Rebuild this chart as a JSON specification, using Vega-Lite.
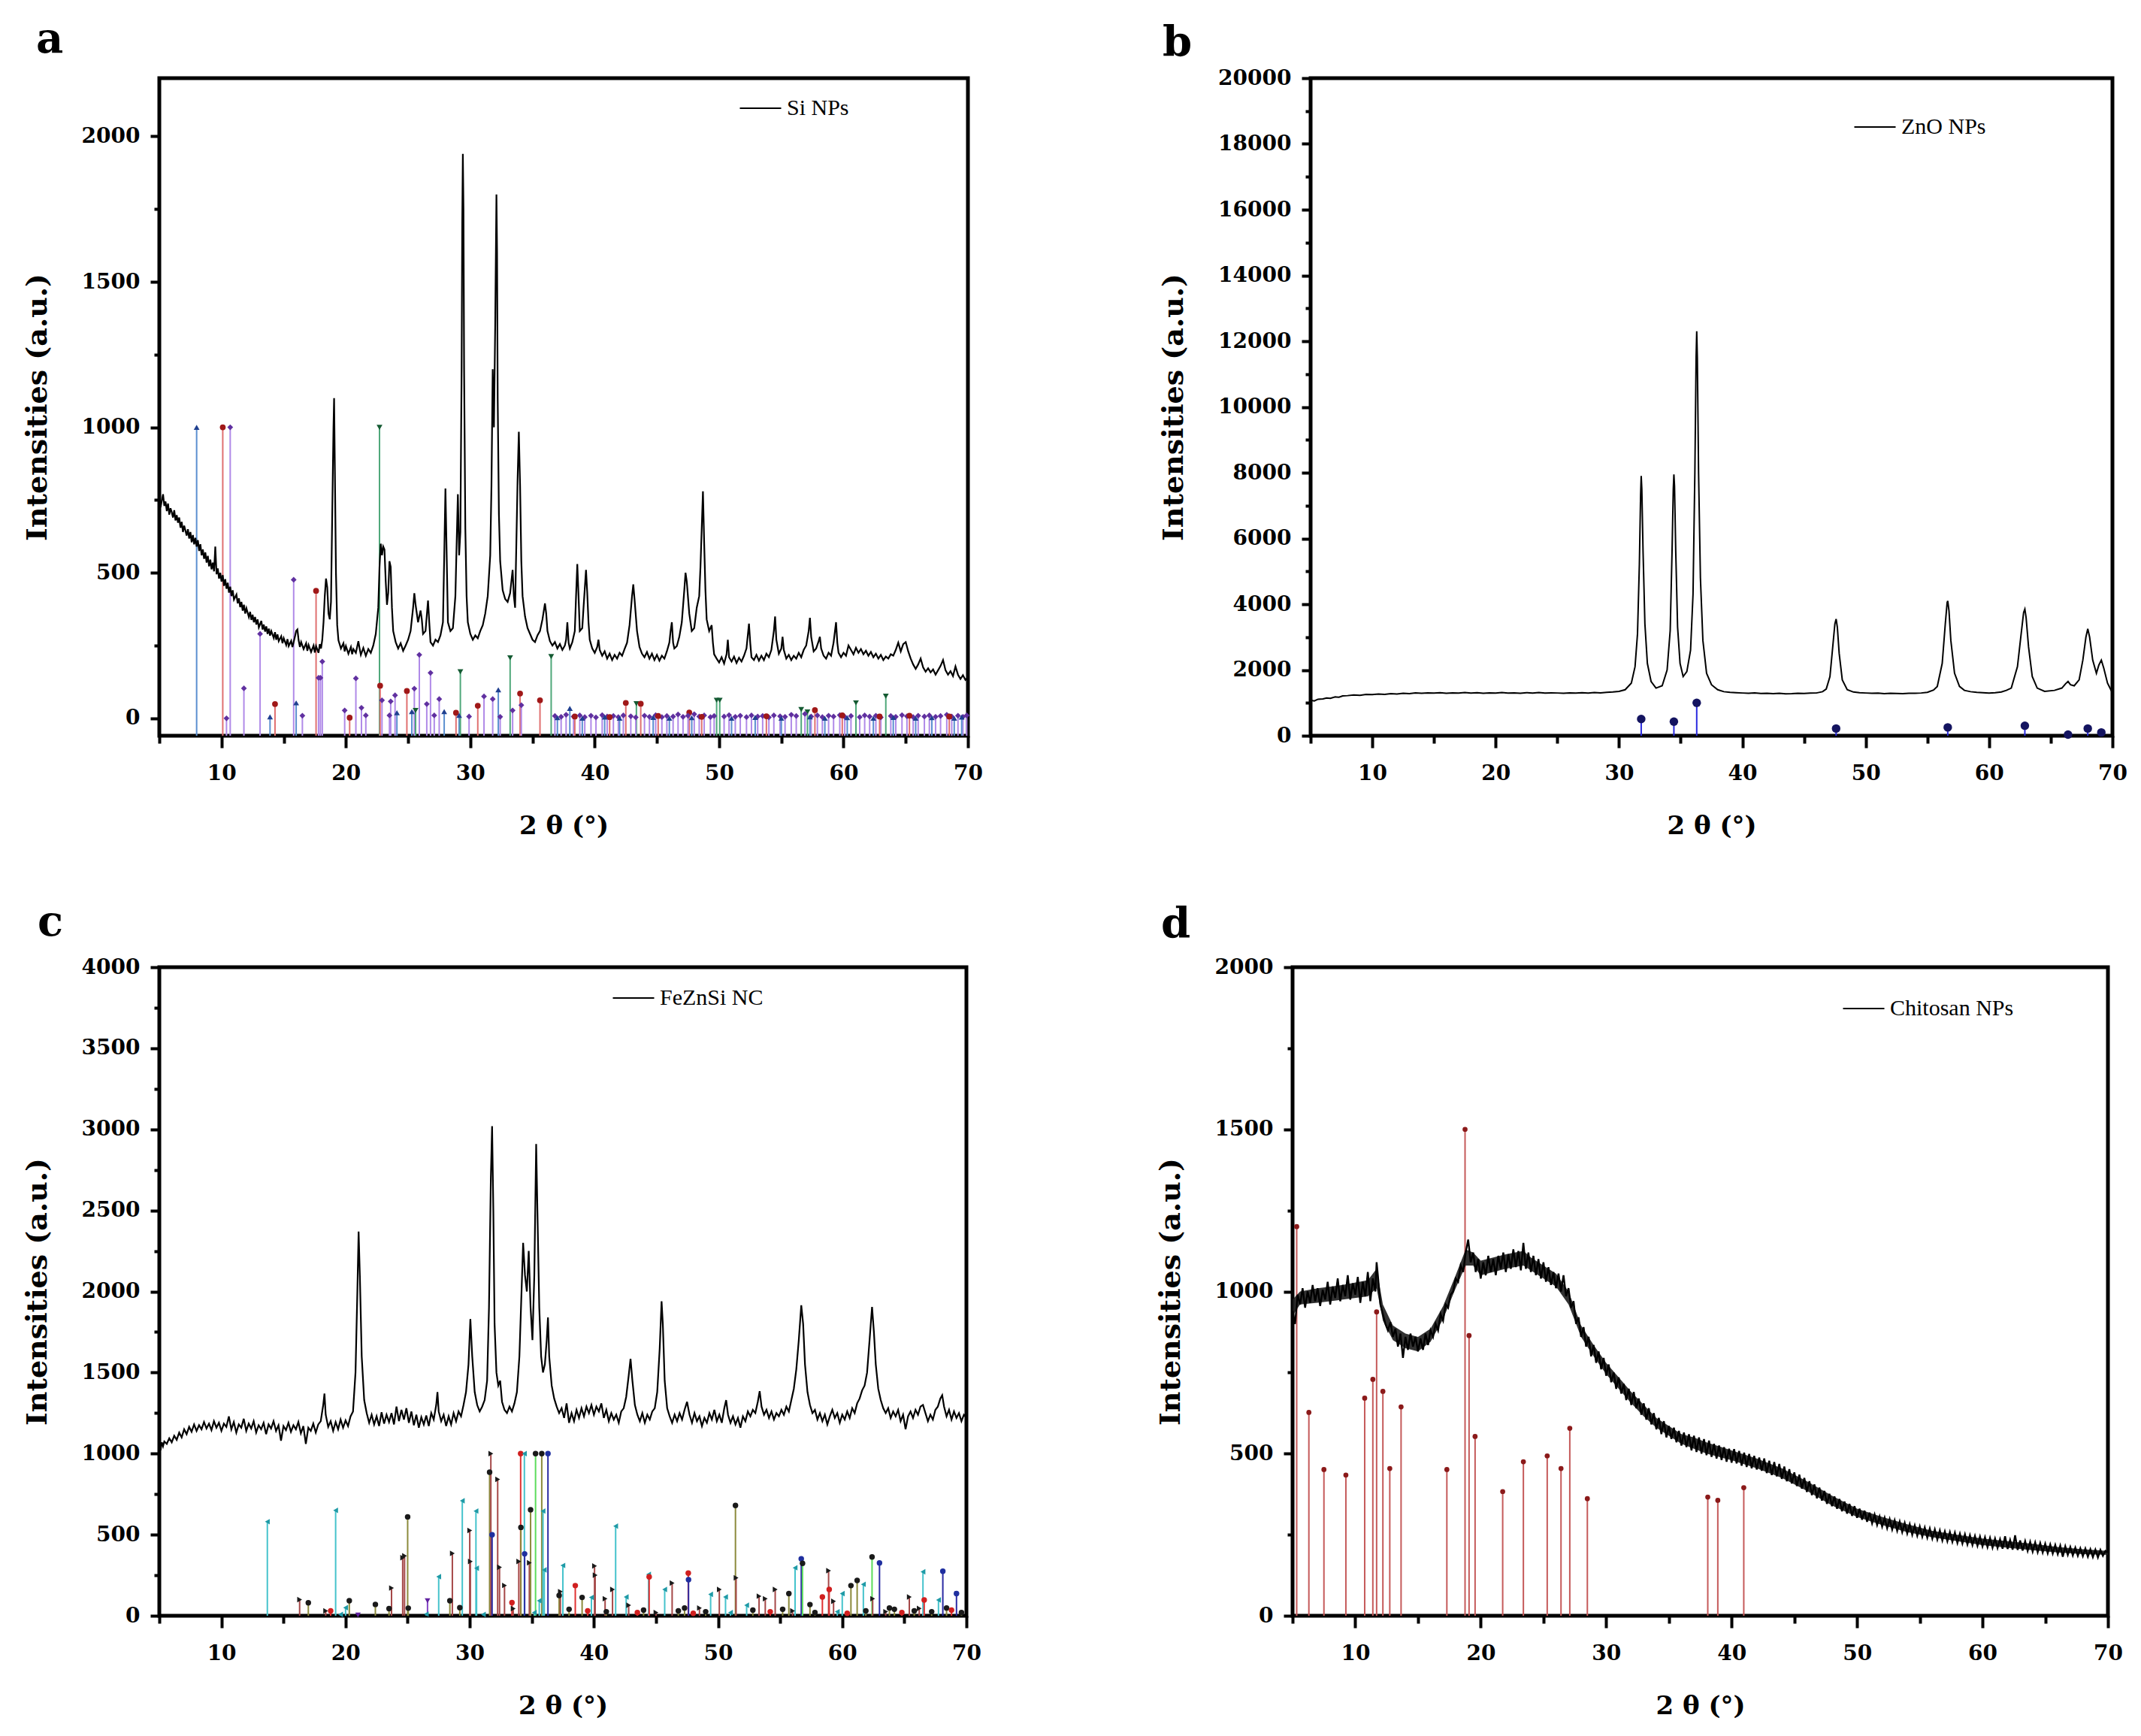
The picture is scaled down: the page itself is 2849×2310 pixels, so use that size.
{
  "$schema": "https://vega.github.io/schema/vega-lite/v6.json",
  "background": "white",
  "padding": {"left": 28, "top": 22, "right": 5, "bottom": 5},
  "config": {
    "font": "DejaVu Serif",
    "view": {"stroke": "black", "strokeWidth": 5},
    "axis": {"domain": false, "grid": false, "tickColor": "black", "tickWidth": 4, "labelFont": "DejaVu Serif", "labelFontWeight": "bold", "labelFontSize": 28, "labelColor": "black", "titleFont": "DejaVu Serif", "titleFontWeight": "bold", "titleFontSize": 34, "titleColor": "black", "labelFlush": false, "labelOverlap": false, "labelBound": false},
    "axisX": {"labelPadding": 20, "titlePadding": 39},
    "axisY": {"labelPadding": 14, "titlePadding": 39, "titleFontSize": 38},
    "legend": {"orient": "none", "symbolType": "stroke", "symbolSize": 3025, "symbolStrokeWidth": 2.2, "labelFont": "Liberation Serif", "labelFontSize": 30, "labelColor": "black", "labelOffset": 6, "labelLimit": 500, "padding": 0},
    "title": {"font": "DejaVu Serif", "fontSize": 56, "fontWeight": "bold", "anchor": "start", "frame": "group", "color": "black"}
  },
  "datasets": {
    "siNP": [
      {"t":5.0,"v":760},{"t":5.1,"v":725},{"t":5.2,"v":748},{"t":5.3,"v":770},{"t":5.4,"v":730},{"t":5.5,"v":745},{"t":5.6,"v":712},{"t":5.7,"v":738},{"t":5.8,"v":700},{"t":5.9,"v":722},
      {"t":6.0,"v":708},{"t":6.1,"v":690},{"t":6.2,"v":715},{"t":6.3,"v":680},{"t":6.4,"v":698},{"t":6.5,"v":672},{"t":6.6,"v":690},{"t":6.7,"v":655},{"t":6.8,"v":675},{"t":6.9,"v":640},
      {"t":7.0,"v":662},{"t":7.2,"v":628},{"t":7.3,"v":650},{"t":7.4,"v":618},{"t":7.5,"v":640},{"t":7.6,"v":605},{"t":7.7,"v":630},{"t":7.8,"v":598},{"t":7.9,"v":620},
      {"t":8.0,"v":590},{"t":8.1,"v":612},{"t":8.2,"v":575},{"t":8.3,"v":598},{"t":8.4,"v":560},{"t":8.5,"v":580},{"t":8.6,"v":548},{"t":8.7,"v":570},{"t":8.8,"v":535},{"t":8.9,"v":558},
      {"t":9.0,"v":522},{"t":9.1,"v":545},{"t":9.2,"v":512},{"t":9.3,"v":535},{"t":9.4,"v":505},{"t":9.5,"v":590},{"t":9.6,"v":495},{"t":9.7,"v":515},{"t":9.8,"v":480},{"t":9.9,"v":500},
      {"t":10.0,"v":470},{"t":10.1,"v":492},{"t":10.2,"v":455},{"t":10.3,"v":478},{"t":10.4,"v":445},{"t":10.5,"v":466},{"t":10.6,"v":432},{"t":10.7,"v":452},{"t":10.8,"v":420},{"t":10.9,"v":440},
      {"t":11.0,"v":408},{"t":11.2,"v":425},{"t":11.3,"v":395},{"t":11.4,"v":412},{"t":11.5,"v":382},{"t":11.6,"v":400},{"t":11.7,"v":370},{"t":11.8,"v":390},{"t":11.9,"v":360},
      {"t":12.0,"v":378},{"t":12.2,"v":348},{"t":12.3,"v":366},{"t":12.4,"v":338},{"t":12.5,"v":356},{"t":12.6,"v":330},{"t":12.7,"v":348},{"t":12.8,"v":322},{"t":12.9,"v":340},
      {"t":13.0,"v":312},{"t":13.2,"v":335},{"t":13.3,"v":305},{"t":13.4,"v":322},{"t":13.5,"v":298},{"t":13.6,"v":316},{"t":13.7,"v":290},{"t":13.8,"v":308},{"t":13.9,"v":284},
      {"t":14.0,"v":300},{"t":14.2,"v":276},{"t":14.3,"v":296},{"t":14.4,"v":270},{"t":14.5,"v":288},{"t":14.6,"v":265},{"t":14.8,"v":282},{"t":14.9,"v":258},
      {"t":15.0,"v":275},{"t":15.2,"v":252},{"t":15.3,"v":272},{"t":15.4,"v":248},{"t":15.6,"v":266},{"t":15.7,"v":245},{"t":15.8,"v":262},{"t":15.9,"v":280},
      {"t":16.0,"v":300},{"t":16.1,"v":305},{"t":16.2,"v":268},{"t":16.3,"v":245},{"t":16.4,"v":262},{"t":16.6,"v":238},{"t":16.8,"v":258},{"t":16.9,"v":232},
      {"t":17.0,"v":252},{"t":17.2,"v":228},{"t":17.4,"v":250},{"t":17.5,"v":226},{"t":17.6,"v":248},{"t":17.8,"v":225},{"t":17.9,"v":255},
      {"t":18.0,"v":240},{"t":18.1,"v":270},{"t":18.2,"v":330},{"t":18.3,"v":420},{"t":18.4,"v":480},{"t":18.5,"v":450},{"t":18.6,"v":360},{"t":18.7,"v":340},{"t":18.8,"v":400},{"t":18.9,"v":700},
      {"t":19.0,"v":1000},{"t":19.05,"v":1100},{"t":19.1,"v":900},{"t":19.2,"v":500},{"t":19.3,"v":320},{"t":19.4,"v":268},{"t":19.6,"v":240},{"t":19.8,"v":258},{"t":19.9,"v":230},
      {"t":20.0,"v":248},{"t":20.2,"v":222},{"t":20.4,"v":245},{"t":20.5,"v":220},{"t":20.6,"v":238},{"t":20.8,"v":225},{"t":21.0,"v":265},{"t":21.1,"v":240},{"t":21.2,"v":218},{"t":21.4,"v":242},{"t":21.6,"v":215},{"t":21.8,"v":238},
      {"t":22.0,"v":225},{"t":22.2,"v":250},{"t":22.4,"v":290},{"t":22.6,"v":380},{"t":22.7,"v":520},{"t":22.8,"v":600},{"t":22.9,"v":560},{"t":23.0,"v":590},{"t":23.1,"v":580},{"t":23.2,"v":470},{"t":23.3,"v":390},{"t":23.4,"v":430},{"t":23.5,"v":540},{"t":23.6,"v":520},{"t":23.7,"v":380},{"t":23.8,"v":300},
      {"t":24.0,"v":262},{"t":24.2,"v":240},{"t":24.4,"v":258},{"t":24.6,"v":232},{"t":24.8,"v":250},{"t":25.0,"v":270},{"t":25.2,"v":300},{"t":25.4,"v":380},{"t":25.5,"v":430},{"t":25.6,"v":390},{"t":25.8,"v":330},
      {"t":26.0,"v":370},{"t":26.1,"v":340},{"t":26.2,"v":290},{"t":26.4,"v":300},{"t":26.6,"v":405},{"t":26.7,"v":330},{"t":26.8,"v":262},{"t":27.0,"v":250},{"t":27.2,"v":270},{"t":27.4,"v":262},{"t":27.6,"v":285},{"t":27.8,"v":330},{"t":27.9,"v":550},
      {"t":28.0,"v":790},{"t":28.1,"v":560},{"t":28.2,"v":330},{"t":28.4,"v":300},{"t":28.6,"v":310},{"t":28.8,"v":420},{"t":28.9,"v":600},{"t":29.0,"v":770},{"t":29.1,"v":560},{"t":29.2,"v":640},{"t":29.3,"v":1200},{"t":29.35,"v":1700},{"t":29.4,"v":1940},{"t":29.45,"v":1750},{"t":29.5,"v":1200},{"t":29.6,"v":650},{"t":29.7,"v":420},{"t":29.8,"v":330},
      {"t":30.0,"v":290},{"t":30.2,"v":270},{"t":30.4,"v":285},{"t":30.6,"v":275},{"t":30.8,"v":300},{"t":31.0,"v":320},{"t":31.2,"v":360},{"t":31.4,"v":420},{"t":31.6,"v":560},{"t":31.7,"v":800},{"t":31.8,"v":1200},{"t":31.9,"v":1000},
      {"t":32.0,"v":1350},{"t":32.1,"v":1800},{"t":32.15,"v":1600},{"t":32.2,"v":1100},{"t":32.3,"v":700},{"t":32.4,"v":540},{"t":32.6,"v":440},{"t":32.8,"v":410},{"t":33.0,"v":400},{"t":33.2,"v":430},{"t":33.4,"v":510},{"t":33.5,"v":420},{"t":33.6,"v":380},{"t":33.7,"v":600},{"t":33.8,"v":820},{"t":33.9,"v":985},
      {"t":34.0,"v":800},{"t":34.1,"v":540},{"t":34.2,"v":420},{"t":34.4,"v":350},{"t":34.6,"v":310},{"t":34.8,"v":290},{"t":35.0,"v":270},{"t":35.2,"v":262},{"t":35.4,"v":285},{"t":35.6,"v":300},{"t":35.8,"v":340},
      {"t":36.0,"v":395},{"t":36.1,"v":360},{"t":36.2,"v":300},{"t":36.4,"v":265},{"t":36.6,"v":250},{"t":36.8,"v":262},{"t":37.0,"v":240},{"t":37.2,"v":255},{"t":37.4,"v":235},{"t":37.6,"v":250},{"t":37.7,"v":270},{"t":37.8,"v":330},{"t":37.9,"v":260},
      {"t":38.0,"v":240},{"t":38.2,"v":262},{"t":38.4,"v":300},{"t":38.5,"v":420},{"t":38.6,"v":530},{"t":38.7,"v":420},{"t":38.8,"v":300},{"t":39.0,"v":310},{"t":39.1,"v":380},{"t":39.3,"v":510},{"t":39.4,"v":430},{"t":39.5,"v":330},{"t":39.6,"v":270},{"t":39.8,"v":240},
      {"t":40.0,"v":225},{"t":40.2,"v":245},{"t":40.3,"v":270},{"t":40.4,"v":235},{"t":40.6,"v":215},{"t":40.8,"v":230},{"t":41.0,"v":205},{"t":41.2,"v":222},{"t":41.4,"v":200},{"t":41.6,"v":218},{"t":41.8,"v":205},
      {"t":42.0,"v":225},{"t":42.2,"v":215},{"t":42.4,"v":238},{"t":42.6,"v":260},{"t":42.8,"v":320},{"t":43.0,"v":420},{"t":43.1,"v":460},{"t":43.2,"v":410},{"t":43.4,"v":300},{"t":43.6,"v":245},{"t":43.8,"v":222},
      {"t":44.0,"v":210},{"t":44.2,"v":228},{"t":44.4,"v":205},{"t":44.6,"v":222},{"t":44.8,"v":200},{"t":45.0,"v":218},{"t":45.2,"v":198},{"t":45.4,"v":215},{"t":45.6,"v":205},{"t":45.8,"v":230},
      {"t":46.0,"v":260},{"t":46.1,"v":300},{"t":46.2,"v":330},{"t":46.3,"v":260},{"t":46.4,"v":240},{"t":46.6,"v":248},{"t":46.8,"v":280},{"t":47.0,"v":330},{"t":47.2,"v":440},{"t":47.3,"v":500},{"t":47.4,"v":470},{"t":47.6,"v":360},{"t":47.8,"v":300},
      {"t":48.0,"v":310},{"t":48.2,"v":380},{"t":48.4,"v":420},{"t":48.5,"v":520},{"t":48.6,"v":650},{"t":48.7,"v":780},{"t":48.8,"v":600},{"t":48.9,"v":440},{"t":49.0,"v":340},{"t":49.2,"v":300},{"t":49.4,"v":320},{"t":49.5,"v":260},{"t":49.6,"v":220},{"t":49.8,"v":205},
      {"t":50.0,"v":192},{"t":50.2,"v":210},{"t":50.4,"v":188},{"t":50.6,"v":220},{"t":50.7,"v":270},{"t":50.8,"v":210},{"t":51.0,"v":195},{"t":51.2,"v":212},{"t":51.4,"v":190},{"t":51.6,"v":208},{"t":51.8,"v":195},
      {"t":52.0,"v":215},{"t":52.2,"v":240},{"t":52.4,"v":325},{"t":52.5,"v":260},{"t":52.6,"v":210},{"t":52.8,"v":200},{"t":53.0,"v":218},{"t":53.2,"v":198},{"t":53.4,"v":215},{"t":53.6,"v":200},{"t":53.8,"v":222},
      {"t":54.0,"v":210},{"t":54.2,"v":235},{"t":54.4,"v":300},{"t":54.5,"v":350},{"t":54.6,"v":270},{"t":54.8,"v":222},{"t":55.0,"v":240},{"t":55.1,"v":280},{"t":55.2,"v":235},{"t":55.4,"v":205},{"t":55.6,"v":218},{"t":55.8,"v":200},
      {"t":56.0,"v":215},{"t":56.2,"v":205},{"t":56.4,"v":225},{"t":56.6,"v":210},{"t":56.8,"v":235},{"t":57.0,"v":250},{"t":57.2,"v":300},{"t":57.3,"v":345},{"t":57.4,"v":280},{"t":57.6,"v":230},{"t":57.8,"v":240},
      {"t":58.0,"v":265},{"t":58.1,"v":280},{"t":58.2,"v":240},{"t":58.4,"v":215},{"t":58.6,"v":205},{"t":58.8,"v":225},{"t":59.0,"v":215},{"t":59.2,"v":260},{"t":59.4,"v":330},{"t":59.5,"v":260},{"t":59.6,"v":225},{"t":59.8,"v":210},
      {"t":60.0,"v":225},{"t":60.2,"v":215},{"t":60.4,"v":250},{"t":60.6,"v":235},{"t":60.8,"v":220},{"t":61.0,"v":242},{"t":61.2,"v":225},{"t":61.4,"v":238},{"t":61.6,"v":220},{"t":61.8,"v":232},
      {"t":62.0,"v":215},{"t":62.2,"v":228},{"t":62.4,"v":210},{"t":62.6,"v":222},{"t":62.8,"v":205},{"t":63.0,"v":218},{"t":63.2,"v":200},{"t":63.4,"v":212},{"t":63.6,"v":205},{"t":63.8,"v":220},
      {"t":64.0,"v":215},{"t":64.2,"v":235},{"t":64.4,"v":260},{"t":64.5,"v":245},{"t":64.6,"v":230},{"t":64.8,"v":255},{"t":65.0,"v":262},{"t":65.2,"v":230},{"t":65.4,"v":205},{"t":65.6,"v":185},{"t":65.8,"v":170},
      {"t":66.0,"v":185},{"t":66.2,"v":205},{"t":66.4,"v":175},{"t":66.6,"v":160},{"t":66.8,"v":172},{"t":67.0,"v":158},{"t":67.2,"v":168},{"t":67.4,"v":150},{"t":67.6,"v":165},{"t":67.8,"v":180},
      {"t":68.0,"v":200},{"t":68.2,"v":165},{"t":68.4,"v":150},{"t":68.6,"v":162},{"t":68.8,"v":145},{"t":69.0,"v":178},{"t":69.2,"v":150},{"t":69.4,"v":135},{"t":69.6,"v":148},{"t":69.8,"v":132},{"t":70.0,"v":140}
    ],
    "siRef": [
      {"t":8.0,"v":1000,"ph":"B"},{"t":10.1,"v":1000,"ph":"R"},{"t":10.7,"v":1000,"ph":"P"},{"t":10.4,"v":0,"ph":"P"},{"t":11.8,"v":103,"ph":"P"},{"t":13.1,"v":290,"ph":"P"},
      {"t":13.9,"v":5,"ph":"B"},{"t":14.3,"v":49,"ph":"R"},{"t":15.8,"v":476,"ph":"P"},{"t":16.0,"v":53,"ph":"B"},{"t":16.5,"v":9,"ph":"P"},{"t":17.6,"v":438,"ph":"R"},
      {"t":17.8,"v":139,"ph":"P"},{"t":17.95,"v":139,"ph":"P"},{"t":18.1,"v":195,"ph":"P"},{"t":19.9,"v":27,"ph":"P"},{"t":20.3,"v":2,"ph":"R"},{"t":20.8,"v":137,"ph":"P"},
      {"t":21.25,"v":36,"ph":"P"},{"t":21.6,"v":10,"ph":"P"},{"t":22.7,"v":1000,"ph":"G"},{"t":22.75,"v":112,"ph":"R"},{"t":22.9,"v":62,"ph":"P"},{"t":23.5,"v":10,"ph":"P"},
      {"t":23.6,"v":58,"ph":"P"},{"t":23.95,"v":79,"ph":"P"},{"t":24.1,"v":19,"ph":"B"},{"t":24.9,"v":94,"ph":"R"},{"t":25.3,"v":23,"ph":"B"},{"t":25.5,"v":102,"ph":"P"},
      {"t":25.6,"v":27,"ph":"G"},{"t":25.9,"v":218,"ph":"P"},{"t":26.5,"v":49,"ph":"P"},{"t":26.8,"v":156,"ph":"P"},{"t":27.1,"v":10,"ph":"P"},{"t":27.5,"v":66,"ph":"P"},
      {"t":27.9,"v":23,"ph":"B"},{"t":28.85,"v":19,"ph":"R"},{"t":29.1,"v":10,"ph":"B"},{"t":29.2,"v":160,"ph":"G"},{"t":29.9,"v":6,"ph":"P"},{"t":30.6,"v":43,"ph":"R"},
      {"t":31.1,"v":75,"ph":"P"},{"t":31.8,"v":66,"ph":"P"},{"t":32.25,"v":98,"ph":"B"},{"t":32.4,"v":5,"ph":"P"},{"t":33.2,"v":208,"ph":"G"},{"t":33.4,"v":27,"ph":"P"},
      {"t":34.0,"v":85,"ph":"R"},{"t":34.1,"v":45,"ph":"P"},{"t":35.6,"v":62,"ph":"R"},{"t":36.5,"v":212,"ph":"G"},{"t":38.0,"v":34,"ph":"B"},{"t":42.5,"v":53,"ph":"R"},
      {"t":43.35,"v":50,"ph":"G"},{"t":43.7,"v":50,"ph":"R"},{"t":47.6,"v":20,"ph":"R"},{"t":49.8,"v":62,"ph":"G"},{"t":50.05,"v":62,"ph":"G"},{"t":56.6,"v":30,"ph":"G"},
      {"t":57.1,"v":22,"ph":"G"},{"t":57.7,"v":28,"ph":"R"},{"t":61.0,"v":53,"ph":"G"},{"t":63.4,"v":76,"ph":"G"},
      {"t":36.8,"v":8,"ph":"P"},{"t":37.3,"v":5,"ph":"P"},{"t":37.7,"v":12,"ph":"P"},{"t":38.3,"v":6,"ph":"P"},{"t":38.8,"v":10,"ph":"P"},{"t":39.2,"v":4,"ph":"P"},{"t":39.7,"v":9,"ph":"P"},
      {"t":40.1,"v":3,"ph":"P"},{"t":40.6,"v":11,"ph":"P"},{"t":41.0,"v":6,"ph":"P"},{"t":41.5,"v":8,"ph":"P"},{"t":41.9,"v":4,"ph":"P"},{"t":42.3,"v":10,"ph":"P"},{"t":42.9,"v":7,"ph":"P"},
      {"t":43.3,"v":3,"ph":"P"},{"t":44.0,"v":9,"ph":"P"},{"t":44.4,"v":5,"ph":"P"},{"t":44.9,"v":11,"ph":"P"},{"t":45.4,"v":4,"ph":"P"},{"t":45.8,"v":8,"ph":"P"},{"t":46.3,"v":6,"ph":"P"},
      {"t":46.7,"v":13,"ph":"P"},{"t":47.1,"v":5,"ph":"P"},{"t":47.5,"v":9,"ph":"P"},{"t":48.0,"v":14,"ph":"P"},{"t":48.4,"v":6,"ph":"P"},{"t":48.8,"v":10,"ph":"P"},{"t":49.3,"v":4,"ph":"P"},
      {"t":49.6,"v":8,"ph":"P"},{"t":50.4,"v":6,"ph":"P"},{"t":50.8,"v":11,"ph":"P"},{"t":51.3,"v":5,"ph":"P"},{"t":51.7,"v":9,"ph":"P"},{"t":52.2,"v":4,"ph":"P"},{"t":52.6,"v":10,"ph":"P"},
      {"t":53.1,"v":6,"ph":"P"},{"t":53.5,"v":8,"ph":"P"},{"t":54.0,"v":3,"ph":"P"},{"t":54.4,"v":10,"ph":"P"},{"t":54.9,"v":7,"ph":"P"},{"t":55.3,"v":5,"ph":"P"},{"t":55.8,"v":12,"ph":"P"},
      {"t":56.2,"v":8,"ph":"P"},{"t":56.9,"v":15,"ph":"P"},{"t":57.4,"v":6,"ph":"P"},{"t":57.9,"v":10,"ph":"P"},{"t":58.3,"v":4,"ph":"P"},{"t":58.8,"v":9,"ph":"P"},{"t":59.2,"v":6,"ph":"P"},
      {"t":59.7,"v":11,"ph":"P"},{"t":60.1,"v":5,"ph":"P"},{"t":60.6,"v":8,"ph":"P"},{"t":61.3,"v":4,"ph":"P"},{"t":61.7,"v":10,"ph":"P"},{"t":62.1,"v":6,"ph":"P"},{"t":62.6,"v":9,"ph":"P"},
      {"t":63.0,"v":3,"ph":"P"},{"t":63.8,"v":8,"ph":"P"},{"t":64.2,"v":5,"ph":"P"},{"t":64.7,"v":11,"ph":"P"},{"t":65.1,"v":7,"ph":"P"},{"t":65.6,"v":4,"ph":"P"},{"t":66.0,"v":9,"ph":"P"},
      {"t":66.5,"v":6,"ph":"P"},{"t":66.9,"v":10,"ph":"P"},{"t":67.4,"v":5,"ph":"P"},{"t":67.8,"v":8,"ph":"P"},{"t":68.3,"v":12,"ph":"P"},{"t":68.7,"v":6,"ph":"P"},{"t":69.2,"v":9,"ph":"P"},
      {"t":69.6,"v":5,"ph":"P"},{"t":69.9,"v":10,"ph":"P"},
      {"t":37.0,"v":2,"ph":"B"},{"t":39.0,"v":0,"ph":"B"},{"t":40.8,"v":4,"ph":"B"},{"t":42.0,"v":0,"ph":"B"},{"t":44.7,"v":3,"ph":"B"},{"t":46.0,"v":0,"ph":"B"},{"t":47.8,"v":2,"ph":"B"},
      {"t":51.0,"v":0,"ph":"B"},{"t":52.9,"v":3,"ph":"B"},{"t":55.0,"v":0,"ph":"B"},{"t":57.3,"v":5,"ph":"B"},{"t":58.5,"v":0,"ph":"B"},{"t":60.3,"v":2,"ph":"B"},{"t":62.4,"v":0,"ph":"B"},
      {"t":64.0,"v":3,"ph":"B"},{"t":65.8,"v":0,"ph":"B"},{"t":67.1,"v":2,"ph":"B"},{"t":68.9,"v":0,"ph":"B"},{"t":69.5,"v":4,"ph":"B"},
      {"t":38.4,"v":6,"ph":"R"},{"t":41.2,"v":4,"ph":"R"},{"t":45.1,"v":8,"ph":"R"},{"t":48.6,"v":5,"ph":"R"},{"t":53.8,"v":7,"ph":"R"},{"t":59.9,"v":10,"ph":"R"},{"t":62.9,"v":6,"ph":"R"},
      {"t":65.3,"v":9,"ph":"R"},{"t":68.5,"v":6,"ph":"R"}
    ],
    "znoNP": [
      {"t":5.0,"v":1080},{"t":5.3,"v":1060},{"t":5.6,"v":1110},{"t":6.0,"v":1120},{"t":6.3,"v":1150},{"t":6.6,"v":1140},{"t":7.0,"v":1180},{"t":7.3,"v":1170},{"t":7.6,"v":1210},
      {"t":8.0,"v":1220},{"t":8.5,"v":1240},{"t":9.0,"v":1230},{"t":9.5,"v":1255},{"t":10.0,"v":1250},{"t":10.5,"v":1270},{"t":11.0,"v":1260},{"t":11.5,"v":1280},{"t":12.0,"v":1270},
      {"t":12.5,"v":1290},{"t":13.0,"v":1280},{"t":13.5,"v":1300},{"t":14.0,"v":1290},{"t":14.5,"v":1305},{"t":15.0,"v":1295},{"t":15.5,"v":1310},{"t":16.0,"v":1290},{"t":16.5,"v":1305},
      {"t":17.0,"v":1300},{"t":17.5,"v":1315},{"t":18.0,"v":1295},{"t":18.5,"v":1310},{"t":19.0,"v":1290},{"t":19.5,"v":1305},{"t":20.0,"v":1300},{"t":20.5,"v":1315},{"t":21.0,"v":1295},
      {"t":21.5,"v":1305},{"t":22.0,"v":1290},{"t":22.5,"v":1310},{"t":23.0,"v":1300},{"t":23.5,"v":1315},{"t":24.0,"v":1295},{"t":24.5,"v":1305},{"t":25.0,"v":1300},{"t":25.5,"v":1290},
      {"t":26.0,"v":1305},{"t":26.5,"v":1300},{"t":27.0,"v":1310},{"t":27.5,"v":1300},{"t":28.0,"v":1315},{"t":28.5,"v":1305},{"t":29.0,"v":1320},{"t":29.5,"v":1330},{"t":30.0,"v":1350},
      {"t":30.5,"v":1400},{"t":31.0,"v":1600},{"t":31.3,"v":2100},{"t":31.5,"v":3100},{"t":31.65,"v":5200},{"t":31.75,"v":7300},{"t":31.8,"v":7900},{"t":31.85,"v":7500},{"t":31.95,"v":5600},
      {"t":32.1,"v":3400},{"t":32.3,"v":2200},{"t":32.6,"v":1650},{"t":33.0,"v":1450},{"t":33.5,"v":1520},{"t":33.9,"v":2000},{"t":34.15,"v":3200},{"t":34.3,"v":5600},{"t":34.4,"v":7500},
      {"t":34.45,"v":7950},{"t":34.5,"v":7600},{"t":34.6,"v":5600},{"t":34.75,"v":3300},{"t":34.95,"v":2200},{"t":35.2,"v":1800},{"t":35.5,"v":1950},{"t":35.8,"v":2600},{"t":36.0,"v":4300},
      {"t":36.15,"v":8000},{"t":36.25,"v":11500},{"t":36.3,"v":12300},{"t":36.35,"v":11500},{"t":36.45,"v":8000},{"t":36.6,"v":4800},{"t":36.8,"v":2900},{"t":37.1,"v":1900},{"t":37.5,"v":1550},
      {"t":38.0,"v":1400},{"t":38.5,"v":1340},{"t":39.0,"v":1320},{"t":39.5,"v":1310},{"t":40.0,"v":1300},{"t":40.5,"v":1290},{"t":41.0,"v":1300},{"t":41.5,"v":1285},{"t":42.0,"v":1290},
      {"t":42.5,"v":1280},{"t":43.0,"v":1290},{"t":43.5,"v":1275},{"t":44.0,"v":1280},{"t":44.5,"v":1290},{"t":45.0,"v":1285},{"t":45.5,"v":1295},{"t":46.0,"v":1300},{"t":46.5,"v":1340},
      {"t":46.8,"v":1420},{"t":47.1,"v":1800},{"t":47.35,"v":2800},{"t":47.5,"v":3400},{"t":47.6,"v":3550},{"t":47.7,"v":3300},{"t":47.85,"v":2500},{"t":48.1,"v":1700},{"t":48.5,"v":1400},
      {"t":49.0,"v":1330},{"t":49.5,"v":1310},{"t":50.0,"v":1300},{"t":50.5,"v":1290},{"t":51.0,"v":1295},{"t":51.5,"v":1280},{"t":52.0,"v":1290},{"t":52.5,"v":1285},{"t":53.0,"v":1280},
      {"t":53.5,"v":1290},{"t":54.0,"v":1290},{"t":54.5,"v":1300},{"t":55.0,"v":1320},{"t":55.5,"v":1390},{"t":55.8,"v":1500},{"t":56.2,"v":2200},{"t":56.45,"v":3400},{"t":56.6,"v":4050},
      {"t":56.65,"v":4100},{"t":56.75,"v":3800},{"t":56.9,"v":2900},{"t":57.2,"v":1900},{"t":57.6,"v":1500},{"t":58.0,"v":1380},{"t":58.5,"v":1340},{"t":59.0,"v":1320},{"t":59.5,"v":1310},
      {"t":60.0,"v":1300},{"t":60.5,"v":1310},{"t":61.0,"v":1330},{"t":61.4,"v":1380},{"t":61.8,"v":1450},{"t":62.3,"v":2100},{"t":62.6,"v":3100},{"t":62.8,"v":3750},{"t":62.9,"v":3850},
      {"t":63.0,"v":3600},{"t":63.2,"v":2700},{"t":63.5,"v":1800},{"t":63.9,"v":1450},{"t":64.5,"v":1350},{"t":65.3,"v":1380},{"t":65.9,"v":1450},{"t":66.2,"v":1580},{"t":66.4,"v":1650},
      {"t":66.6,"v":1550},{"t":66.9,"v":1520},{"t":67.3,"v":1700},{"t":67.6,"v":2300},{"t":67.85,"v":3000},{"t":68.0,"v":3250},{"t":68.15,"v":3000},{"t":68.4,"v":2300},{"t":68.7,"v":1900},
      {"t":68.9,"v":2150},{"t":69.1,"v":2300},{"t":69.3,"v":2050},{"t":69.6,"v":1600},{"t":69.8,"v":1450},{"t":70.0,"v":1300}
    ],
    "znoRef": [
      {"t":31.8,"v":510},{"t":34.45,"v":430},{"t":36.3,"v":1000},{"t":47.6,"v":220},{"t":56.65,"v":254},{"t":62.9,"v":305},{"t":66.4,"v":34},{"t":68.0,"v":220},{"t":69.1,"v":100}
    ],
    "fznNP": [
      {"t":5.0,"v":1050},{"t":5.1,"v":1020},{"t":5.2,"v":1070},{"t":5.3,"v":1045},{"t":5.4,"v":1075},{"t":5.6,"v":1060},{"t":5.8,"v":1095},{"t":6.0,"v":1070},{"t":6.2,"v":1110},{"t":6.4,"v":1085},
      {"t":6.6,"v":1130},{"t":6.8,"v":1100},{"t":7.0,"v":1150},{"t":7.2,"v":1120},{"t":7.4,"v":1165},{"t":7.6,"v":1135},{"t":7.8,"v":1180},{"t":8.0,"v":1140},{"t":8.2,"v":1175},{"t":8.4,"v":1150},
      {"t":8.6,"v":1195},{"t":8.8,"v":1155},{"t":9.0,"v":1185},{"t":9.2,"v":1145},{"t":9.4,"v":1200},{"t":9.6,"v":1160},{"t":9.8,"v":1190},{"t":10.0,"v":1140},{"t":10.2,"v":1185},{"t":10.4,"v":1165},
      {"t":10.6,"v":1230},{"t":10.8,"v":1150},{"t":11.0,"v":1195},{"t":11.2,"v":1130},{"t":11.4,"v":1180},{"t":11.6,"v":1160},{"t":11.8,"v":1215},{"t":12.0,"v":1140},{"t":12.2,"v":1185},{"t":12.4,"v":1155},
      {"t":12.6,"v":1200},{"t":12.8,"v":1130},{"t":13.0,"v":1175},{"t":13.2,"v":1150},{"t":13.4,"v":1190},{"t":13.6,"v":1120},{"t":13.8,"v":1180},{"t":14.0,"v":1155},{"t":14.2,"v":1200},{"t":14.4,"v":1140},
      {"t":14.6,"v":1175},{"t":14.8,"v":1080},{"t":15.0,"v":1170},{"t":15.2,"v":1145},{"t":15.4,"v":1190},{"t":15.6,"v":1135},{"t":15.8,"v":1175},{"t":16.0,"v":1150},{"t":16.2,"v":1195},{"t":16.4,"v":1125},
      {"t":16.6,"v":1170},{"t":16.8,"v":1060},{"t":17.0,"v":1160},{"t":17.2,"v":1140},{"t":17.4,"v":1185},{"t":17.6,"v":1130},{"t":17.8,"v":1180},{"t":18.0,"v":1200},{"t":18.2,"v":1300},{"t":18.3,"v":1370},
      {"t":18.4,"v":1240},{"t":18.6,"v":1165},{"t":18.8,"v":1200},{"t":19.0,"v":1140},{"t":19.2,"v":1195},{"t":19.4,"v":1150},{"t":19.6,"v":1210},{"t":19.8,"v":1160},{"t":20.0,"v":1205},{"t":20.2,"v":1170},
      {"t":20.4,"v":1230},{"t":20.6,"v":1260},{"t":20.8,"v":1500},{"t":20.95,"v":2000},{"t":21.05,"v":2370},{"t":21.15,"v":2100},{"t":21.3,"v":1600},{"t":21.5,"v":1330},{"t":21.7,"v":1250},{"t":21.9,"v":1190},
      {"t":22.1,"v":1240},{"t":22.3,"v":1180},{"t":22.5,"v":1230},{"t":22.7,"v":1170},{"t":22.9,"v":1255},{"t":23.1,"v":1185},{"t":23.3,"v":1240},{"t":23.5,"v":1195},{"t":23.7,"v":1250},{"t":23.9,"v":1180},
      {"t":24.1,"v":1290},{"t":24.3,"v":1200},{"t":24.5,"v":1270},{"t":24.7,"v":1210},{"t":24.9,"v":1280},{"t":25.1,"v":1190},{"t":25.3,"v":1260},{"t":25.5,"v":1175},{"t":25.7,"v":1240},{"t":25.9,"v":1160},
      {"t":26.1,"v":1225},{"t":26.3,"v":1180},{"t":26.5,"v":1235},{"t":26.7,"v":1170},{"t":26.9,"v":1250},{"t":27.1,"v":1210},{"t":27.3,"v":1300},{"t":27.4,"v":1380},{"t":27.5,"v":1260},{"t":27.7,"v":1200},
      {"t":27.9,"v":1240},{"t":28.1,"v":1170},{"t":28.3,"v":1230},{"t":28.5,"v":1180},{"t":28.7,"v":1250},{"t":28.9,"v":1200},{"t":29.1,"v":1260},{"t":29.3,"v":1230},{"t":29.5,"v":1300},{"t":29.7,"v":1380},
      {"t":29.9,"v":1550},{"t":30.05,"v":1830},{"t":30.2,"v":1600},{"t":30.4,"v":1380},{"t":30.6,"v":1300},{"t":30.8,"v":1260},{"t":31.0,"v":1290},{"t":31.2,"v":1330},{"t":31.4,"v":1450},{"t":31.55,"v":1900},
      {"t":31.7,"v":2700},{"t":31.8,"v":3020},{"t":31.9,"v":2500},{"t":32.0,"v":1800},{"t":32.15,"v":1500},{"t":32.3,"v":1420},{"t":32.45,"v":1450},{"t":32.6,"v":1320},{"t":32.8,"v":1270},{"t":33.0,"v":1250},
      {"t":33.2,"v":1290},{"t":33.4,"v":1260},{"t":33.6,"v":1310},{"t":33.8,"v":1380},{"t":34.0,"v":1600},{"t":34.15,"v":1950},{"t":34.3,"v":2300},{"t":34.45,"v":2100},{"t":34.6,"v":2000},{"t":34.75,"v":2250},
      {"t":34.9,"v":1900},{"t":35.05,"v":1700},{"t":35.2,"v":2100},{"t":35.35,"v":2910},{"t":35.45,"v":2500},{"t":35.6,"v":1900},{"t":35.75,"v":1600},{"t":35.9,"v":1500},{"t":36.05,"v":1550},{"t":36.2,"v":1700},
      {"t":36.3,"v":1840},{"t":36.4,"v":1600},{"t":36.6,"v":1420},{"t":36.8,"v":1340},{"t":37.0,"v":1290},{"t":37.2,"v":1250},{"t":37.4,"v":1280},{"t":37.6,"v":1220},{"t":37.8,"v":1310},{"t":38.0,"v":1190},
      {"t":38.2,"v":1250},{"t":38.4,"v":1200},{"t":38.6,"v":1270},{"t":38.8,"v":1220},{"t":39.0,"v":1280},{"t":39.2,"v":1230},{"t":39.4,"v":1290},{"t":39.6,"v":1250},{"t":39.8,"v":1300},{"t":40.0,"v":1240},
      {"t":40.2,"v":1290},{"t":40.4,"v":1260},{"t":40.6,"v":1310},{"t":40.8,"v":1220},{"t":41.0,"v":1270},{"t":41.2,"v":1200},{"t":41.4,"v":1250},{"t":41.6,"v":1210},{"t":41.8,"v":1240},{"t":42.0,"v":1190},
      {"t":42.2,"v":1260},{"t":42.4,"v":1280},{"t":42.6,"v":1350},{"t":42.8,"v":1480},{"t":42.95,"v":1585},{"t":43.1,"v":1450},{"t":43.3,"v":1300},{"t":43.5,"v":1240},{"t":43.7,"v":1200},{"t":43.9,"v":1250},
      {"t":44.1,"v":1190},{"t":44.3,"v":1240},{"t":44.5,"v":1210},{"t":44.7,"v":1260},{"t":44.9,"v":1280},{"t":45.1,"v":1380},{"t":45.3,"v":1650},{"t":45.45,"v":1940},{"t":45.55,"v":1800},{"t":45.7,"v":1450},
      {"t":45.9,"v":1280},{"t":46.1,"v":1230},{"t":46.3,"v":1190},{"t":46.5,"v":1240},{"t":46.7,"v":1200},{"t":46.9,"v":1250},{"t":47.1,"v":1210},{"t":47.3,"v":1270},{"t":47.5,"v":1320},{"t":47.7,"v":1240},
      {"t":47.9,"v":1190},{"t":48.1,"v":1250},{"t":48.3,"v":1200},{"t":48.5,"v":1230},{"t":48.7,"v":1170},{"t":48.9,"v":1220},{"t":49.1,"v":1190},{"t":49.3,"v":1250},{"t":49.5,"v":1210},{"t":49.7,"v":1270},
      {"t":49.9,"v":1200},{"t":50.1,"v":1240},{"t":50.3,"v":1190},{"t":50.5,"v":1280},{"t":50.65,"v":1330},{"t":50.8,"v":1240},{"t":51.0,"v":1190},{"t":51.2,"v":1230},{"t":51.4,"v":1180},{"t":51.6,"v":1220},
      {"t":51.8,"v":1160},{"t":52.0,"v":1230},{"t":52.2,"v":1200},{"t":52.4,"v":1260},{"t":52.6,"v":1230},{"t":52.8,"v":1270},{"t":53.0,"v":1250},{"t":53.2,"v":1320},{"t":53.35,"v":1385},{"t":53.5,"v":1290},
      {"t":53.7,"v":1240},{"t":53.9,"v":1270},{"t":54.1,"v":1220},{"t":54.3,"v":1260},{"t":54.5,"v":1210},{"t":54.7,"v":1250},{"t":54.9,"v":1230},{"t":55.1,"v":1270},{"t":55.3,"v":1240},{"t":55.5,"v":1290},
      {"t":55.7,"v":1260},{"t":55.9,"v":1330},{"t":56.1,"v":1400},{"t":56.3,"v":1520},{"t":56.5,"v":1700},{"t":56.7,"v":1915},{"t":56.85,"v":1800},{"t":57.0,"v":1550},{"t":57.2,"v":1380},{"t":57.4,"v":1300},
      {"t":57.6,"v":1250},{"t":57.8,"v":1270},{"t":58.0,"v":1210},{"t":58.2,"v":1250},{"t":58.4,"v":1200},{"t":58.6,"v":1240},{"t":58.8,"v":1180},{"t":59.0,"v":1230},{"t":59.2,"v":1270},{"t":59.4,"v":1220},
      {"t":59.6,"v":1250},{"t":59.8,"v":1190},{"t":60.0,"v":1240},{"t":60.2,"v":1210},{"t":60.4,"v":1260},{"t":60.6,"v":1220},{"t":60.8,"v":1280},{"t":61.0,"v":1250},{"t":61.2,"v":1310},{"t":61.4,"v":1340},
      {"t":61.6,"v":1390},{"t":61.8,"v":1420},{"t":62.0,"v":1500},{"t":62.2,"v":1700},{"t":62.4,"v":1905},{"t":62.55,"v":1750},{"t":62.7,"v":1550},{"t":62.9,"v":1400},{"t":63.1,"v":1330},{"t":63.3,"v":1280},
      {"t":63.5,"v":1250},{"t":63.7,"v":1280},{"t":63.9,"v":1220},{"t":64.1,"v":1260},{"t":64.3,"v":1230},{"t":64.5,"v":1270},{"t":64.7,"v":1200},{"t":64.9,"v":1240},{"t":65.1,"v":1150},{"t":65.3,"v":1230},
      {"t":65.5,"v":1260},{"t":65.7,"v":1220},{"t":65.9,"v":1270},{"t":66.1,"v":1240},{"t":66.3,"v":1290},{"t":66.5,"v":1300},{"t":66.7,"v":1250},{"t":66.9,"v":1200},{"t":67.1,"v":1240},{"t":67.3,"v":1210},
      {"t":67.5,"v":1270},{"t":67.7,"v":1290},{"t":67.9,"v":1340},{"t":68.05,"v":1360},{"t":68.2,"v":1290},{"t":68.4,"v":1230},{"t":68.6,"v":1270},{"t":68.8,"v":1210},{"t":69.0,"v":1260},{"t":69.2,"v":1220},
      {"t":69.4,"v":1250},{"t":69.6,"v":1200},{"t":69.8,"v":1240},{"t":70.0,"v":1225}
    ],
    "fznRef": [
      {"t":13.7,"v":580,"ph":"cy"},{"t":16.3,"v":100,"ph":"br"},{"t":17.0,"v":80,"ph":"ol"},{"t":18.4,"v":30,"ph":"br"},{"t":18.8,"v":30,"ph":"rd"},{"t":19.2,"v":650,"ph":"cy"},
      {"t":19.6,"v":8,"ph":"cy"},{"t":20.0,"v":50,"ph":"cy"},{"t":20.3,"v":93,"ph":"ol"},{"t":21.0,"v":5,"ph":"pu"},{"t":22.4,"v":70,"ph":"ol"},{"t":23.5,"v":44,"ph":"ol"},
      {"t":23.7,"v":171,"ph":"br"},{"t":24.6,"v":358,"ph":"br"},{"t":24.75,"v":370,"ph":"br"},{"t":25.0,"v":610,"ph":"ol"},{"t":25.05,"v":47,"ph":"ol"},{"t":26.6,"v":93,"ph":"pu"},
      {"t":26.5,"v":10,"ph":"cy"},{"t":27.5,"v":241,"ph":"cy"},{"t":28.4,"v":93,"ph":"ol"},{"t":28.6,"v":385,"ph":"br"},{"t":29.2,"v":50,"ph":"ol"},{"t":29.4,"v":709,"ph":"cy"},
      {"t":30.0,"v":526,"ph":"br"},{"t":30.05,"v":335,"ph":"br"},{"t":30.5,"v":646,"ph":"cy"},{"t":30.55,"v":293,"ph":"cy"},{"t":31.1,"v":8,"ph":"cy"},{"t":31.6,"v":885,"ph":"ol"},
      {"t":31.7,"v":1000,"ph":"br"},{"t":31.8,"v":500,"ph":"bl"},{"t":32.25,"v":841,"ph":"br"},{"t":32.4,"v":299,"ph":"br"},{"t":32.8,"v":187,"ph":"br"},{"t":33.4,"v":81,"ph":"rd"},
      {"t":33.5,"v":44,"ph":"br"},{"t":33.95,"v":335,"ph":"br"},{"t":34.1,"v":1000,"ph":"rd"},{"t":34.12,"v":545,"ph":"ol"},{"t":34.4,"v":1000,"ph":"cy"},{"t":34.42,"v":382,"ph":"bl"},
      {"t":34.8,"v":327,"ph":"br"},{"t":34.9,"v":654,"ph":"ol"},{"t":35.2,"v":20,"ph":"cy"},{"t":35.3,"v":1000,"ph":"gn"},{"t":35.6,"v":93,"ph":"cy"},{"t":35.8,"v":1000,"ph":"ol"},
      {"t":35.9,"v":646,"ph":"cy"},{"t":36.0,"v":283,"ph":"cy"},{"t":36.3,"v":1000,"ph":"bl"},{"t":37.2,"v":125,"ph":"ol"},{"t":37.3,"v":149,"ph":"br"},{"t":37.5,"v":310,"ph":"cy"},
      {"t":38.5,"v":186,"ph":"rd"},{"t":39.05,"v":113,"ph":"ol"},{"t":39.8,"v":113,"ph":"cy"},{"t":40.05,"v":307,"ph":"br"},{"t":40.1,"v":250,"ph":"br"},{"t":40.9,"v":105,"ph":"br"},
      {"t":41.5,"v":162,"ph":"br"},{"t":41.75,"v":553,"ph":"cy"},{"t":42.6,"v":116,"ph":"cy"},{"t":42.8,"v":65,"ph":"br"},{"t":44.4,"v":255,"ph":"cy"},{"t":44.45,"v":240,"ph":"rd"},
      {"t":45.7,"v":162,"ph":"cy"},{"t":46.3,"v":202,"ph":"br"},{"t":47.3,"v":48,"ph":"ol"},{"t":47.6,"v":263,"ph":"rd"},{"t":47.62,"v":223,"ph":"bl"},{"t":48.5,"v":48,"ph":"br"},
      {"t":49.4,"v":132,"ph":"cy"},{"t":50.1,"v":162,"ph":"br"},{"t":50.6,"v":116,"ph":"cy"},{"t":51.4,"v":680,"ph":"ol"},{"t":51.45,"v":234,"ph":"br"},{"t":52.3,"v":65,"ph":"cy"},
      {"t":53.3,"v":121,"ph":"br"},{"t":53.8,"v":105,"ph":"br"},{"t":54.6,"v":162,"ph":"br"},{"t":55.7,"v":137,"ph":"ol"},{"t":56.2,"v":296,"ph":"cy"},{"t":56.7,"v":351,"ph":"bl"},
      {"t":56.8,"v":323,"ph":"gn"},{"t":57.4,"v":69,"ph":"ol"},{"t":58.4,"v":116,"ph":"rd"},{"t":58.9,"v":278,"ph":"br"},{"t":58.95,"v":162,"ph":"rd"},{"t":59.3,"v":89,"ph":"br"},
      {"t":60.0,"v":137,"ph":"cy"},{"t":60.7,"v":186,"ph":"ol"},{"t":61.2,"v":218,"ph":"ol"},{"t":61.7,"v":194,"ph":"cy"},{"t":62.4,"v":363,"ph":"gn"},{"t":62.45,"v":105,"ph":"br"},
      {"t":63.0,"v":326,"ph":"bl"},{"t":63.8,"v":48,"ph":"ol"},{"t":65.4,"v":116,"ph":"br"},{"t":66.5,"v":271,"ph":"cy"},{"t":66.6,"v":97,"ph":"rd"},{"t":67.75,"v":97,"ph":"cy"},
      {"t":68.1,"v":275,"ph":"bl"},{"t":68.4,"v":48,"ph":"ol"},{"t":69.2,"v":137,"ph":"bl"},
      {"t":38.0,"v":40,"ph":"ol"},{"t":39.5,"v":30,"ph":"rd"},{"t":41.0,"v":25,"ph":"ol"},{"t":43.5,"v":20,"ph":"rd"},{"t":44.0,"v":35,"ph":"ol"},{"t":45.0,"v":20,"ph":"br"},
      {"t":46.8,"v":30,"ph":"ol"},{"t":48.0,"v":15,"ph":"rd"},{"t":49.0,"v":25,"ph":"ol"},{"t":51.0,"v":20,"ph":"cy"},{"t":52.8,"v":35,"ph":"ol"},{"t":54.2,"v":25,"ph":"rd"},
      {"t":55.2,"v":40,"ph":"ol"},{"t":56.0,"v":30,"ph":"br"},{"t":57.8,"v":20,"ph":"ol"},{"t":59.6,"v":25,"ph":"cy"},{"t":60.4,"v":15,"ph":"rd"},{"t":61.9,"v":30,"ph":"ol"},
      {"t":63.5,"v":25,"ph":"br"},{"t":64.2,"v":40,"ph":"ol"},{"t":64.8,"v":20,"ph":"rd"},{"t":65.8,"v":30,"ph":"ol"},{"t":66.2,"v":45,"ph":"br"},{"t":67.2,"v":25,"ph":"ol"},
      {"t":68.8,"v":35,"ph":"rd"},{"t":69.6,"v":20,"ph":"ol"}
    ],
    "chBand": [
      {"t":5.0,"lo":925,"hi":975},{"t":5.6,"lo":960,"hi":1000},{"t":7.0,"lo":965,"hi":1010},{"t":9.0,"lo":975,"hi":1020},{"t":11.0,"lo":985,"hi":1035},{"t":11.7,"lo":1010,"hi":1070},
      {"t":12.2,"lo":910,"hi":960},{"t":13.0,"lo":850,"hi":895},{"t":14.0,"lo":825,"hi":870},{"t":15.0,"lo":815,"hi":860},{"t":16.0,"lo":845,"hi":885},{"t":17.0,"lo":915,"hi":955},
      {"t":18.0,"lo":1010,"hi":1050},{"t":18.8,"lo":1080,"hi":1130},{"t":19.4,"lo":1080,"hi":1120},{"t":20.0,"lo":1050,"hi":1095},{"t":22.0,"lo":1070,"hi":1115},{"t":23.4,"lo":1080,"hi":1125},
      {"t":24.0,"lo":1065,"hi":1105},{"t":25.0,"lo":1040,"hi":1080},{"t":26.0,"lo":1015,"hi":1055},{"t":27.0,"lo":960,"hi":1000},{"t":28.0,"lo":860,"hi":895},{"t":29.0,"lo":800,"hi":835},
      {"t":30.0,"lo":745,"hi":780},{"t":31.0,"lo":700,"hi":735},{"t":32.0,"lo":655,"hi":690},{"t":33.0,"lo":615,"hi":650},{"t":34.0,"lo":580,"hi":610},{"t":35.0,"lo":555,"hi":585},
      {"t":36.0,"lo":530,"hi":560},{"t":37.0,"lo":515,"hi":550},{"t":38.0,"lo":500,"hi":535},{"t":40.0,"lo":480,"hi":510},{"t":42.0,"lo":455,"hi":485},{"t":44.0,"lo":425,"hi":455},
      {"t":46.0,"lo":385,"hi":415},{"t":48.0,"lo":340,"hi":370},{"t":50.0,"lo":305,"hi":330},{"t":52.0,"lo":280,"hi":305},{"t":54.0,"lo":258,"hi":282},{"t":56.0,"lo":242,"hi":262},
      {"t":58.0,"lo":230,"hi":250},{"t":60.0,"lo":218,"hi":238},{"t":62.0,"lo":210,"hi":230},{"t":64.0,"lo":202,"hi":222},{"t":66.0,"lo":195,"hi":212},{"t":68.0,"lo":190,"hi":205},{"t":70.0,"lo":188,"hi":200}
    ],
    "chNP": [
      {"t":5.0,"v":940},{"t":5.2,"v":900},{"t":5.4,"v":990},{"t":5.6,"v":960},{"t":5.8,"v":1010},{"t":6.0,"v":950},{"t":6.2,"v":1000},{"t":6.4,"v":965},{"t":6.6,"v":1020},{"t":6.8,"v":970},
      {"t":7.0,"v":1010},{"t":7.2,"v":955},{"t":7.4,"v":1005},{"t":7.6,"v":975},{"t":7.8,"v":1030},{"t":8.0,"v":960},{"t":8.2,"v":1015},{"t":8.4,"v":980},{"t":8.6,"v":1040},{"t":8.8,"v":970},
      {"t":9.0,"v":1020},{"t":9.2,"v":985},{"t":9.4,"v":1050},{"t":9.6,"v":975},{"t":9.8,"v":1025},{"t":10.0,"v":990},{"t":10.2,"v":1045},{"t":10.4,"v":965},{"t":10.6,"v":1030},{"t":10.8,"v":985},
      {"t":11.0,"v":1060},{"t":11.2,"v":970},{"t":11.4,"v":1040},{"t":11.6,"v":1000},{"t":11.7,"v":1090},{"t":11.8,"v":1050},{"t":12.0,"v":960},{"t":12.2,"v":930},{"t":12.4,"v":900},{"t":12.6,"v":880},
      {"t":12.8,"v":905},{"t":13.0,"v":860},{"t":13.2,"v":885},{"t":13.4,"v":830},{"t":13.6,"v":870},{"t":13.8,"v":795},{"t":14.0,"v":860},{"t":14.2,"v":820},{"t":14.4,"v":870},{"t":14.6,"v":830},
      {"t":14.8,"v":860},{"t":15.0,"v":815},{"t":15.2,"v":855},{"t":15.4,"v":820},{"t":15.6,"v":870},{"t":15.8,"v":835},{"t":16.0,"v":880},{"t":16.2,"v":860},{"t":16.4,"v":900},{"t":16.6,"v":880},
      {"t":16.8,"v":930},{"t":17.0,"v":910},{"t":17.2,"v":960},{"t":17.4,"v":950},{"t":17.6,"v":990},{"t":17.8,"v":1000},{"t":18.0,"v":1040},{"t":18.2,"v":1030},{"t":18.4,"v":1080},{"t":18.6,"v":1060},
      {"t":18.8,"v":1120},{"t":19.0,"v":1160},{"t":19.2,"v":1090},{"t":19.4,"v":1120},{"t":19.6,"v":1060},{"t":19.8,"v":1100},{"t":20.0,"v":1040},{"t":20.2,"v":1090},{"t":20.4,"v":1050},{"t":20.6,"v":1110},
      {"t":20.8,"v":1060},{"t":21.0,"v":1100},{"t":21.2,"v":1050},{"t":21.4,"v":1110},{"t":21.6,"v":1070},{"t":21.8,"v":1120},{"t":22.0,"v":1060},{"t":22.2,"v":1115},{"t":22.4,"v":1070},{"t":22.6,"v":1130},
      {"t":22.8,"v":1075},{"t":23.0,"v":1125},{"t":23.2,"v":1065},{"t":23.4,"v":1150},{"t":23.6,"v":1070},{"t":23.8,"v":1120},{"t":24.0,"v":1060},{"t":24.2,"v":1110},{"t":24.4,"v":1050},{"t":24.6,"v":1100},
      {"t":24.8,"v":1040},{"t":25.0,"v":1090},{"t":25.2,"v":1030},{"t":25.4,"v":1075},{"t":25.6,"v":1020},{"t":25.8,"v":1060},{"t":26.0,"v":1010},{"t":26.2,"v":1055},{"t":26.4,"v":1000},{"t":26.6,"v":1050},
      {"t":26.8,"v":985},{"t":27.0,"v":1010},{"t":27.2,"v":950},{"t":27.4,"v":970},{"t":27.6,"v":900},{"t":27.8,"v":920},{"t":28.0,"v":860},{"t":28.2,"v":890},{"t":28.4,"v":830},{"t":28.6,"v":860},
      {"t":28.8,"v":800},{"t":29.0,"v":835},{"t":29.2,"v":780},{"t":29.4,"v":815},{"t":29.6,"v":760},{"t":29.8,"v":795},{"t":30.0,"v":740},{"t":30.2,"v":775},{"t":30.4,"v":720},{"t":30.6,"v":750},
      {"t":30.8,"v":700},{"t":31.0,"v":735},{"t":31.2,"v":685},{"t":31.4,"v":715},{"t":31.6,"v":665},{"t":31.8,"v":700},{"t":32.0,"v":650},{"t":32.2,"v":690},{"t":32.4,"v":640},{"t":32.6,"v":670},
      {"t":32.8,"v":620},{"t":33.0,"v":655},{"t":33.2,"v":605},{"t":33.4,"v":640},{"t":33.6,"v":590},{"t":33.8,"v":625},{"t":34.0,"v":575},{"t":34.2,"v":610},{"t":34.4,"v":560},{"t":34.6,"v":600},
      {"t":34.8,"v":550},{"t":35.0,"v":585},{"t":35.2,"v":545},{"t":35.4,"v":580},{"t":35.6,"v":535},{"t":35.8,"v":570},{"t":36.0,"v":525},{"t":36.2,"v":565},{"t":36.4,"v":520},{"t":36.6,"v":560},
      {"t":36.8,"v":510},{"t":37.0,"v":555},{"t":37.2,"v":505},{"t":37.4,"v":550},{"t":37.6,"v":500},{"t":37.8,"v":545},{"t":38.0,"v":495},{"t":38.2,"v":540},{"t":38.4,"v":490},{"t":38.6,"v":530},
      {"t":38.8,"v":485},{"t":39.0,"v":525},{"t":39.2,"v":480},{"t":39.4,"v":520},{"t":39.6,"v":475},{"t":39.8,"v":515},{"t":40.0,"v":472},{"t":40.2,"v":514},{"t":40.4,"v":470},{"t":40.6,"v":508},
      {"t":40.8,"v":463},{"t":41.0,"v":503},{"t":41.2,"v":459},{"t":41.4,"v":499},{"t":41.6,"v":455},{"t":41.8,"v":493},{"t":42.0,"v":451},{"t":42.2,"v":488},{"t":42.4,"v":447},{"t":42.6,"v":485},
      {"t":42.8,"v":440},{"t":43.0,"v":478},{"t":43.2,"v":434},{"t":43.4,"v":474},{"t":43.6,"v":430},{"t":43.8,"v":468},{"t":44.0,"v":422},{"t":44.2,"v":460},{"t":44.4,"v":415},{"t":44.6,"v":452},
      {"t":44.8,"v":408},{"t":45.0,"v":442},{"t":45.2,"v":400},{"t":45.4,"v":435},{"t":45.6,"v":392},{"t":45.8,"v":425},{"t":46.0,"v":382},{"t":46.2,"v":415},{"t":46.4,"v":372},{"t":46.6,"v":405},
      {"t":46.8,"v":362},{"t":47.0,"v":395},{"t":47.2,"v":355},{"t":47.4,"v":385},{"t":47.6,"v":345},{"t":47.8,"v":376},{"t":48.0,"v":338},{"t":48.2,"v":368},{"t":48.4,"v":330},{"t":48.6,"v":360},
      {"t":48.8,"v":322},{"t":49.0,"v":352},{"t":49.2,"v":315},{"t":49.4,"v":345},{"t":49.6,"v":308},{"t":49.8,"v":338},{"t":50.0,"v":302},{"t":50.2,"v":330},{"t":50.4,"v":296},{"t":50.6,"v":324},
      {"t":50.8,"v":290},{"t":51.0,"v":318},{"t":51.2,"v":285},{"t":51.4,"v":312},{"t":51.6,"v":280},{"t":51.8,"v":306},{"t":52.0,"v":275},{"t":52.2,"v":302},{"t":52.4,"v":270},{"t":52.6,"v":298},
      {"t":52.8,"v":266},{"t":53.0,"v":294},{"t":53.2,"v":262},{"t":53.4,"v":290},{"t":53.6,"v":258},{"t":53.8,"v":286},{"t":54.0,"v":254},{"t":54.2,"v":282},{"t":54.4,"v":250},{"t":54.6,"v":278},
      {"t":54.8,"v":247},{"t":55.0,"v":275},{"t":55.2,"v":244},{"t":55.4,"v":272},{"t":55.6,"v":241},{"t":55.8,"v":269},{"t":56.0,"v":238},{"t":56.2,"v":266},{"t":56.4,"v":235},{"t":56.6,"v":263},
      {"t":56.8,"v":232},{"t":57.0,"v":260},{"t":57.2,"v":230},{"t":57.4,"v":258},{"t":57.6,"v":228},{"t":57.8,"v":256},{"t":58.0,"v":225},{"t":58.2,"v":253},{"t":58.4,"v":223},{"t":58.6,"v":251},
      {"t":58.8,"v":220},{"t":59.0,"v":248},{"t":59.2,"v":218},{"t":59.4,"v":246},{"t":59.6,"v":216},{"t":59.8,"v":244},{"t":60.0,"v":214},{"t":60.2,"v":242},{"t":60.4,"v":212},{"t":60.6,"v":240},
      {"t":60.8,"v":210},{"t":61.0,"v":238},{"t":61.2,"v":209},{"t":61.4,"v":236},{"t":61.6,"v":207},{"t":61.8,"v":245},{"t":62.0,"v":206},{"t":62.2,"v":234},{"t":62.4,"v":204},{"t":62.6,"v":248},
      {"t":62.8,"v":203},{"t":63.0,"v":232},{"t":63.2,"v":201},{"t":63.4,"v":230},{"t":63.6,"v":200},{"t":63.8,"v":228},{"t":64.0,"v":198},{"t":64.2,"v":226},{"t":64.4,"v":196},{"t":64.6,"v":224},
      {"t":64.8,"v":195},{"t":65.0,"v":222},{"t":65.2,"v":193},{"t":65.4,"v":220},{"t":65.6,"v":192},{"t":65.8,"v":218},{"t":66.0,"v":190},{"t":66.2,"v":216},{"t":66.4,"v":182},{"t":66.6,"v":214},
      {"t":66.8,"v":188},{"t":67.0,"v":212},{"t":67.2,"v":186},{"t":67.4,"v":210},{"t":67.6,"v":185},{"t":67.8,"v":208},{"t":68.0,"v":184},{"t":68.2,"v":207},{"t":68.4,"v":182},{"t":68.6,"v":205},
      {"t":68.8,"v":181},{"t":69.0,"v":204},{"t":69.2,"v":180},{"t":69.4,"v":203},{"t":69.6,"v":185},{"t":69.8,"v":200},{"t":70.0,"v":195}
    ],
    "chRef": [
      {"t":5.33,"v":1200},{"t":6.3,"v":627},{"t":7.5,"v":451},{"t":9.25,"v":434},{"t":10.75,"v":671},{"t":11.4,"v":729},{"t":11.7,"v":937},{"t":12.2,"v":692},{"t":12.75,"v":454},
      {"t":13.65,"v":644},{"t":17.3,"v":451},{"t":18.75,"v":1500},{"t":19.07,"v":864},{"t":19.55,"v":553},{"t":21.75,"v":383},{"t":23.4,"v":475},{"t":25.3,"v":493},{"t":26.4,"v":454},
      {"t":27.1,"v":578},{"t":28.5,"v":361},{"t":38.1,"v":366},{"t":38.9,"v":356},{"t":40.97,"v":395}
    ]
  },
  "resolve": {"scale": {"color": "independent", "shape": "independent"}, "legend": {"color": "independent"}},
  "spacing": 78,
  "vconcat": [
    {
      "hconcat": [
        {
          "width": 1076, "height": 875,
          "title": {"text": "a", "dx": -164, "offset": 22},
          "layer": [
            {
              "data": {"name": "siRef"},
              "mark": {"type": "rule", "strokeWidth": 2},
              "encoding": {
                "x": {"field": "t", "type": "quantitative", "scale": {"domain": [5, 70], "nice": false, "zero": false},
                      "axis": {"title": "2 θ (°)", "values": [5,10,15,20,25,30,35,40,45,50,55,60,65,70], "labelExpr": "datum.value % 10 == 0 ? datum.label : ''", "tickSize": {"condition": {"test": "datum.value % 10 == 0", "value": 16}, "value": 10}}},
                "y": {"field": "v", "type": "quantitative", "scale": {"domain": [-60, 2200], "nice": false, "zero": false},
                      "axis": {"title": "Intensities (a.u.)", "format": "d", "values": [0,250,500,750,1000,1250,1500,1750,2000], "labelExpr": "datum.value % 500 == 0 ? datum.label : ''", "tickSize": {"condition": {"test": "datum.value % 500 == 0", "value": 12}, "value": 7}}},
                "y2": {"datum": -60},
                "color": {"field": "ph", "type": "nominal", "scale": {"domain": ["B","R","P","G"], "range": ["#5b8fd0","#e07070","#b08ae8","#4fa87a"]}, "legend": null}
              }
            },
            {
              "data": {"name": "siRef"},
              "mark": {"type": "point", "filled": true, "size": 60, "opacity": 1},
              "encoding": {
                "x": {"field": "t", "type": "quantitative"},
                "y": {"field": "v", "type": "quantitative"},
                "color": {"field": "ph", "type": "nominal", "scale": {"domain": ["B","R","P","G"], "range": ["#1f3f8f","#a01818","#6030a0","#145a32"]}, "legend": null},
                "shape": {"field": "ph", "type": "nominal", "scale": {"domain": ["B","R","P","G"], "range": ["triangle-up","circle","diamond","triangle-down"]}, "legend": null}
              }
            },
            {
              "data": {"name": "siNP"},
              "mark": {"type": "line", "strokeWidth": 2.2},
              "encoding": {
                "x": {"field": "t", "type": "quantitative"},
                "y": {"field": "v", "type": "quantitative"},
                "color": {"datum": "Si NPs", "scale": {"range": ["black"]}, "legend": {"title": null, "legendX": 771, "legendY": 11}}
              }
            }
          ],
          "resolve": {"scale": {"color": "independent", "shape": "independent"}}
        },
        {
          "width": 1067, "height": 875,
          "title": {"text": "b", "dx": -197, "offset": 3},
          "layer": [
            {
              "data": {"name": "znoRef"},
              "mark": {"type": "rule", "strokeWidth": 2, "color": "#2a2ae0"},
              "encoding": {
                "x": {"field": "t", "type": "quantitative", "scale": {"domain": [5, 70], "nice": false, "zero": false},
                      "axis": {"title": "2 θ (°)", "values": [5,10,15,20,25,30,35,40,45,50,55,60,65,70], "labelExpr": "datum.value % 10 == 0 ? datum.label : ''", "tickSize": {"condition": {"test": "datum.value % 10 == 0", "value": 16}, "value": 10}}},
                "y": {"field": "v", "type": "quantitative", "scale": {"domain": [0, 20000], "nice": false, "zero": false},
                      "axis": {"title": "Intensities (a.u.)", "format": "d", "values": [0,1000,2000,3000,4000,5000,6000,7000,8000,9000,10000,11000,12000,13000,14000,15000,16000,17000,18000,19000,20000], "labelExpr": "datum.value % 2000 == 0 ? datum.label : ''", "tickSize": {"condition": {"test": "datum.value % 2000 == 0", "value": 12}, "value": 7}}},
                "y2": {"datum": 0}
              }
            },
            {
              "data": {"name": "znoRef"},
              "mark": {"type": "point", "filled": true, "size": 130, "color": "#141460", "opacity": 1},
              "encoding": {
                "x": {"field": "t", "type": "quantitative"},
                "y": {"field": "v", "type": "quantitative"}
              }
            },
            {
              "data": {"name": "znoNP"},
              "mark": {"type": "line", "strokeWidth": 2},
              "encoding": {
                "x": {"field": "t", "type": "quantitative"},
                "y": {"field": "v", "type": "quantitative"},
                "color": {"datum": "ZnO NPs", "scale": {"range": ["black"]}, "legend": {"title": null, "legendX": 722, "legendY": 36}}
              }
            }
          ]
        }
      ],
      "spacing": 456,
      "bounds": "flush",
      "resolve": {"scale": {"color": "independent", "shape": "independent"}, "legend": {"color": "independent"}}
    },
    {
      "hconcat": [
        {
          "width": 1074, "height": 863,
          "title": {"text": "c", "dx": -162, "offset": 16},
          "layer": [
            {
              "data": {"name": "fznRef"},
              "mark": {"type": "rule", "strokeWidth": 2},
              "encoding": {
                "x": {"field": "t", "type": "quantitative", "scale": {"domain": [5, 70], "nice": false, "zero": false},
                      "axis": {"title": "2 θ (°)", "values": [5,10,15,20,25,30,35,40,45,50,55,60,65,70], "labelExpr": "datum.value % 10 == 0 ? datum.label : ''", "tickSize": {"condition": {"test": "datum.value % 10 == 0", "value": 16}, "value": 10}}},
                "y": {"field": "v", "type": "quantitative", "scale": {"domain": [0, 4000], "nice": false, "zero": false},
                      "axis": {"title": "Intensities (a.u.)", "format": "d", "values": [0,250,500,750,1000,1250,1500,1750,2000,2250,2500,2750,3000,3250,3500,3750,4000], "labelExpr": "datum.value % 500 == 0 ? datum.label : ''", "tickSize": {"condition": {"test": "datum.value % 500 == 0", "value": 12}, "value": 7}}},
                "y2": {"datum": 0},
                "color": {"field": "ph", "type": "nominal", "scale": {"domain": ["cy","br","ol","rd","gn","bl","pu"], "range": ["#45c3cc","#a54848","#8c8a3c","#e03232","#5cdc5c","#2b2ba3","#8444c4"]}, "legend": null}
              }
            },
            {
              "data": {"name": "fznRef"},
              "mark": {"type": "point", "filled": true, "size": 55, "opacity": 1},
              "encoding": {
                "x": {"field": "t", "type": "quantitative"},
                "y": {"field": "v", "type": "quantitative"},
                "color": {"field": "ph", "type": "nominal", "scale": {"domain": ["cy","br","ol","rd","gn","bl","pu"], "range": ["#1f9aa6","#1a1a1a","#1a1a1a","#d01f1f","#1a1a1a","#1f2f9f","#6020a0"]}, "legend": null},
                "shape": {"field": "ph", "type": "nominal", "scale": {"domain": ["cy","br","ol","rd","gn","bl","pu"], "range": ["triangle-left","triangle-right","circle","circle","circle","circle","triangle-down"]}, "legend": null}
              }
            },
            {
              "data": {"name": "fznNP"},
              "mark": {"type": "line", "strokeWidth": 2.2},
              "encoding": {
                "x": {"field": "t", "type": "quantitative"},
                "y": {"field": "v", "type": "quantitative"},
                "color": {"datum": "FeZnSi NC", "scale": {"range": ["black"]}, "legend": {"title": null, "legendX": 602, "legendY": 12}}
              }
            }
          ],
          "resolve": {"scale": {"color": "independent", "shape": "independent"}}
        },
        {
          "width": 1085, "height": 863,
          "title": {"text": "d", "dx": -175, "offset": 13},
          "layer": [
            {
              "data": {"name": "chRef"},
              "mark": {"type": "rule", "strokeWidth": 2, "color": "#c55a5a"},
              "encoding": {
                "x": {"field": "t", "type": "quantitative", "scale": {"domain": [5, 70], "nice": false, "zero": false},
                      "axis": {"title": "2 θ (°)", "values": [5,10,15,20,25,30,35,40,45,50,55,60,65,70], "labelExpr": "datum.value % 10 == 0 ? datum.label : ''", "tickSize": {"condition": {"test": "datum.value % 10 == 0", "value": 16}, "value": 10}}},
                "y": {"field": "v", "type": "quantitative", "scale": {"domain": [0, 2000], "nice": false, "zero": false},
                      "axis": {"title": "Intensities (a.u.)", "format": "d", "values": [0,250,500,750,1000,1250,1500,1750,2000], "labelExpr": "datum.value % 500 == 0 ? datum.label : ''", "tickSize": {"condition": {"test": "datum.value % 500 == 0", "value": 12}, "value": 7}}},
                "y2": {"datum": 0}
              }
            },
            {
              "data": {"name": "chRef"},
              "mark": {"type": "point", "filled": true, "size": 45, "color": "#8b1a1a", "opacity": 1},
              "encoding": {
                "x": {"field": "t", "type": "quantitative"},
                "y": {"field": "v", "type": "quantitative"}
              }
            },
            {
              "data": {"name": "chBand"},
              "mark": {"type": "area", "color": "#1c1c1c", "opacity": 0.9},
              "encoding": {
                "x": {"field": "t", "type": "quantitative"},
                "y": {"field": "lo", "type": "quantitative"},
                "y2": {"field": "hi"}
              }
            },
            {
              "data": {"name": "chNP"},
              "mark": {"type": "line", "strokeWidth": 2.4},
              "encoding": {
                "x": {"field": "t", "type": "quantitative"},
                "y": {"field": "v", "type": "quantitative"},
                "color": {"datum": "Chitosan NPs", "scale": {"range": ["black"]}, "legend": {"title": null, "legendX": 731, "legendY": 26}}
              }
            }
          ]
        }
      ],
      "spacing": 434,
      "bounds": "flush",
      "resolve": {"scale": {"color": "independent", "shape": "independent"}, "legend": {"color": "independent"}}
    }
  ]
}
